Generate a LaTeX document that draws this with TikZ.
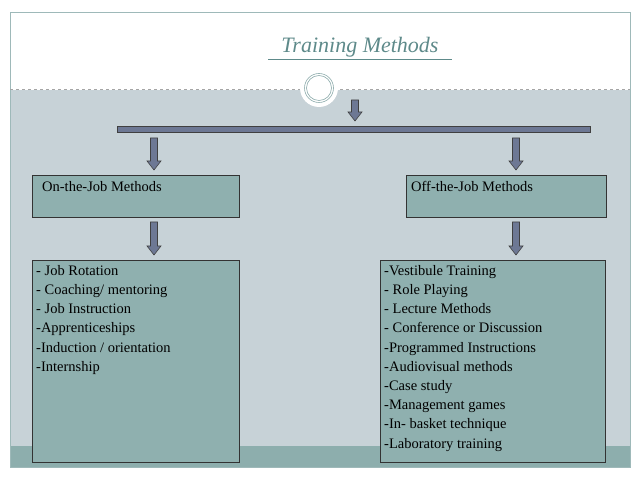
\documentclass[tikz,border=0pt]{standalone}
\usepackage{fontspec}
\setmainfont{Liberation Serif}
\begin{document}
\begin{tikzpicture}[x=1pt,y=-1pt,
  blk/.style={draw=black!80,fill=boxc,line width=0.7pt},
  barr/.style={draw=black!75,fill=arrc,line width=0.6pt},
  txt/.style={font=\fontsize{14.5}{19.2}\selectfont,align=left,anchor=north west,inner sep=0pt}]
\definecolor{boxc}{HTML}{8FB0AF}
\definecolor{arrc}{HTML}{6D7894}
\definecolor{bgc}{HTML}{C7D2D7}
\definecolor{bandc}{HTML}{8DAEAD}
\definecolor{titc}{HTML}{5E8A8A}
\useasboundingbox (0,0) rectangle (638,478);
\fill[white] (0,0) rectangle (638,478);
\fill[bgc] (10,90) rectangle (630,446);
\fill[bandc] (10,446) rectangle (630,467);
\draw[titc!60,line width=0.8pt] (10,12) rectangle (630,467);
\draw[gray!70,dashed,line width=0.5pt] (10,89) -- (630,89);
\node[circle,fill=white,minimum size=38pt,inner sep=0pt] (c) at (319,88) {};
\draw[titc!70,line width=0.6pt] (319,88) circle (14.5) (319,88) circle (12.5);
\node[font=\fontsize{22}{24}\selectfont\itshape,text=titc,inner sep=1pt] (title) at (360,47) {Training Methods};
\draw[titc,line width=0.7pt] (268,59) -- (452,59);
\newcommand{\blkarrow}[3]{\draw[barr] (#1-3.5,#2) -- (#1+3.5,#2) -- (#1+3.5,#3-9) -- (#1+7,#3-9) -- (#1,#3) -- (#1-7,#3-9) -- (#1-3.5,#3-9) -- cycle;}
\blkarrow{355}{100}{121}
\draw[barr] (117,126) rectangle (590,132);
\blkarrow{154}{138}{170}
\blkarrow{516}{138}{170}
\node[blk,minimum width=207pt,minimum height=42pt,anchor=north west,inner sep=0pt] (on) at (32,175) {};
\node[txt] at (42,181) {On-the-Job Methods};
\node[blk,minimum width=200pt,minimum height=42pt,anchor=north west,inner sep=0pt] (off) at (406,175) {};
\node[txt] at (411,181) {Off-the-Job Methods};
\blkarrow{154}{222}{255}
\blkarrow{516}{222}{255}
\node[blk,minimum width=207pt,minimum height=202pt,anchor=north west,inner sep=0pt] (onl) at (32,260) {};
\node[txt] at (36,265) {- Job Rotation\\- Coaching/ mentoring\\- Job Instruction\\-Apprenticeships\\-Induction / orientation\\-Internship};
\node[blk,minimum width=225pt,minimum height=202pt,anchor=north west,inner sep=0pt] (offl) at (380,260) {};
\node[txt] at (384,265) {-Vestibule Training\\- Role Playing\\- Lecture Methods\\- Conference or Discussion\\-Programmed Instructions\\-Audiovisual methods\\-Case study\\-Management games\\-In- basket technique\\-Laboratory training};
\end{tikzpicture}
\end{document}
